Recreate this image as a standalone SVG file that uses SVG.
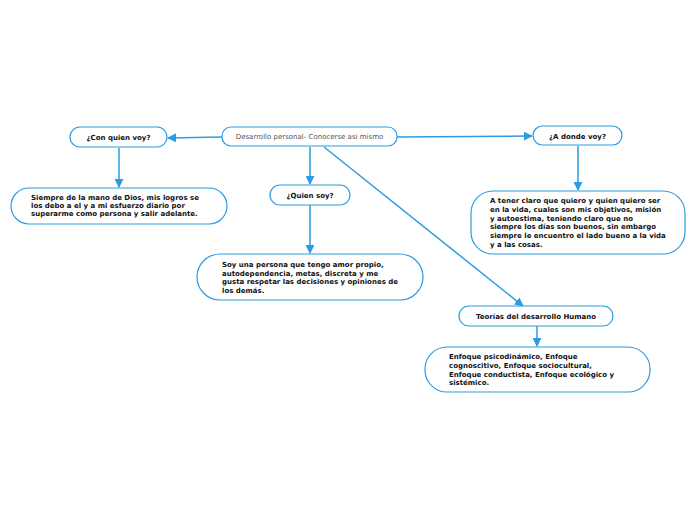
<svg xmlns="http://www.w3.org/2000/svg" width="696" height="520" viewBox="0 0 696 520">
<style>
.n{fill:#fff;stroke:#2d9be0;stroke-width:1.2}
.t{font-family:"DejaVu Sans",Verdana,sans-serif;font-size:7px;font-weight:bold;fill:#111}
.r{font-family:"DejaVu Sans",Verdana,sans-serif;font-size:7px;fill:#555}
.c{stroke:#2d9be0;stroke-width:1.5;fill:none;marker-end:url(#a)}
</style>
<defs><marker id="a" viewBox="0 0 10 10" refX="9" refY="5" markerWidth="6" markerHeight="6" orient="auto"><path d="M0,0L10,5L0,10z" fill="#2d9be0"/></marker></defs>
<rect width="696" height="520" fill="#fff"/>
<g id="connectors">
<path class="c" d="M222,137L168,138"/>
<path class="c" d="M310,147L310,184"/>
<path class="c" d="M324,147L523,306"/>
<path class="c" d="M397,137L532,136"/>
<path class="c" d="M119,148L119,187"/>
<path class="c" d="M310,205L310,253"/>
<path class="c" d="M578,146L578,190"/>
<path class="c" d="M537,326L537,346"/>
</g>
<g id="root"><rect class="n" x="222" y="127" width="175" height="19" rx="9"/><text class="r" x="309.5" y="139" text-anchor="middle">Desarrollo personal- Conocerse asi mismo</text></g>
<g id="conquien"><rect class="n" x="70" y="127" width="97" height="20" rx="10"/><text class="t" x="118.5" y="140" text-anchor="middle">¿Con quien voy?</text></g>
<g id="siempre"><rect class="n" x="11" y="188" width="216" height="36" rx="18"/><text class="t" x="31" y="200">Siempre de la mano de Dios, mis logros se<tspan x="31" dy="8">los debo a el y a mi esfuerzo diario por</tspan><tspan x="31" dy="8">superarme como persona y salir adelante.</tspan></text></g>
<g id="quiensoy"><rect class="n" x="270" y="185" width="80" height="20" rx="10"/><text class="t" x="310" y="198" text-anchor="middle">¿Quien soy?</text></g>
<g id="soyuna"><rect class="n" x="197" y="254" width="226" height="46" rx="23"/><text class="t" x="222" y="267">Soy una persona que tengo amor propio,<tspan x="222" dy="8.7">autodependencia, metas, discreta y me</tspan><tspan x="222" dy="8.7">gusta respetar las decisiones y opiniones de</tspan><tspan x="222" dy="8.7">los demás.</tspan></text></g>
<g id="adonde"><rect class="n" x="533" y="126" width="89" height="19" rx="9.5"/><text class="t" x="577.5" y="138.5" text-anchor="middle">¿A donde voy?</text></g>
<g id="atener"><rect class="n" x="471" y="191" width="214" height="63" rx="22"/><text class="t" x="490" y="203">A tener claro que quiero y quien quiero ser<tspan x="490" dy="8.8">en la vida, cuales son mis objetivos, misión</tspan><tspan x="490" dy="8.8">y autoestima, teniendo claro que no</tspan><tspan x="490" dy="8.8">siempre los días son buenos, sin embargo</tspan><tspan x="490" dy="8.8">siempre le encuentro el lado bueno a la vida</tspan><tspan x="490" dy="8.8">y a las cosas.</tspan></text></g>
<g id="teorias"><rect class="n" x="459" y="306" width="154" height="20" rx="10"/><text class="t" x="536" y="319" text-anchor="middle">Teorías del desarrollo Humano</text></g>
<g id="enfoque"><rect class="n" x="425" y="347" width="225" height="45" rx="22"/><text class="t" x="449" y="359">Enfoque psicodinámico, Enfoque<tspan x="449" dy="8.8">cognoscitivo, Enfoque sociocultural,</tspan><tspan x="449" dy="8.8">Enfoque conductista, Enfoque ecológico y</tspan><tspan x="449" dy="8.8">sistémico.</tspan></text></g>
</svg>
